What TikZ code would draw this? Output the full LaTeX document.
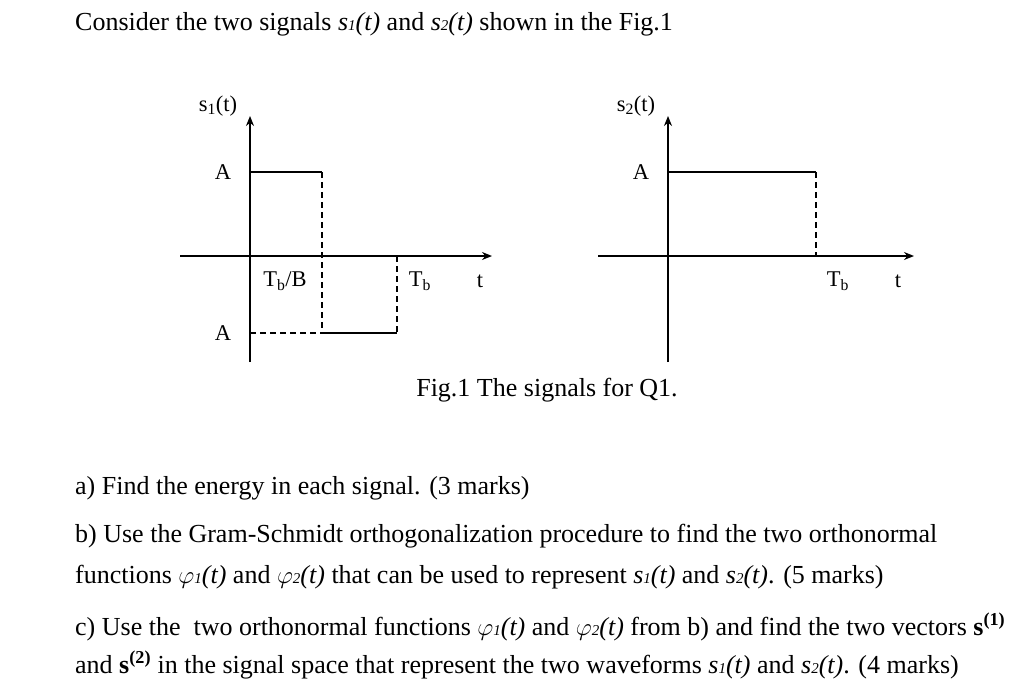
\documentclass[tikz,border=0pt]{standalone}
\usepackage{fontspec}
\usetikzlibrary{arrows.meta}
\setmainfont{Liberation Serif}
\begin{document}
\begin{tikzpicture}[x=1pt,y=-1pt,
  txt/.style={anchor=base west,inner sep=0pt,font=\fontsize{26}{30}\selectfont},
  lbl/.style={inner sep=0pt,font=\fontsize{22.5}{26}\selectfont},
  ax/.style={line width=1.5pt,-{Stealth[length=10pt,width=8pt]}},
  sig/.style={line width=1.5pt},
  dsh/.style={line width=1.1pt,dash pattern=on 6pt off 4pt}]
\useasboundingbox (0,0) rectangle (1024,683);
\newcommand{\ssub}[1]{\textit{s}{\fontsize{15}{15}\selectfont\textit{#1}}\textit{(t)}}
\newcommand{\psub}[1]{$\varphi${\fontsize{15}{15}\selectfont\textit{#1}}\textit{(t)}}
\node[txt] (title) at (75,30) {Consider the two signals \ssub{1} and \ssub{2} shown in the Fig.1};
% left plot
\draw[ax] (250,362) -- (250,116);
\draw[ax] (180,256) -- (492,256);
\draw[sig] (250,172) -- (322,172);
\draw[dsh] (322,172) -- (322,333);
\draw[sig] (322,333) -- (397,333);
\draw[dsh] (397,256) -- (397,333);
\draw[dsh] (250,333) -- (322,333);
\node[lbl] (s1) at (218,106) {s\textsubscript{1}(t)};
\node[lbl] (a1) at (223,172) {A};
\node[lbl] (a2) at (223,333) {A};
\node[lbl] (tbb) at (285,281) {T\textsubscript{b}/B};
\node[lbl] (tb1) at (420,281) {T\textsubscript{b}};
\node[lbl] (t1) at (480,281) {t};
% right plot
\draw[ax] (668,362) -- (668,116);
\draw[ax] (598,256) -- (914,256);
\draw[sig] (668,172) -- (816,172);
\draw[dsh] (816,172) -- (816,256);
\node[lbl] (s2) at (636,106) {s\textsubscript{2}(t)};
\node[lbl] (a3) at (641,172) {A};
\node[lbl] (tb2) at (838,281) {T\textsubscript{b}};
\node[lbl] (t2) at (898,281) {t};
\node[inner sep=0pt,font=\fontsize{26}{30}\selectfont] (cap) at (547,390) {Fig.1 The signals for Q1.};
% questions
\node[txt] (qa) at (75,494) {a) Find the energy in each signal. (3 marks)};
\node[txt] (qb1) at (75,542) {b) Use the Gram-Schmidt orthogonalization procedure to find the two orthonormal};
\node[txt] (qb2) at (75,583) {functions \psub{1} and \psub{2} that can be used to represent \ssub{1} and \ssub{2}. (5 marks)};
\node[txt] (qc1) at (75,635) {c) Use the\ \ two orthonormal functions \psub{1} and \psub{2} from b) and find the two vectors \textbf{s}\textsuperscript{\textbf{(1)}}};
\node[txt] (qc2) at (75,673) {and \textbf{s}\textsuperscript{\textbf{(2)}} in the signal space that represent the two waveforms \ssub{1} and \ssub{2}. (4 marks)};
\end{tikzpicture}
\end{document}
